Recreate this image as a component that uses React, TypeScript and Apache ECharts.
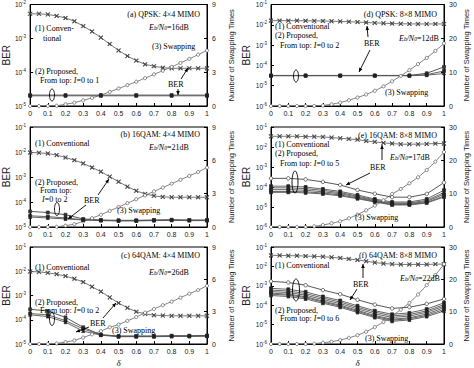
import React, { useEffect, useRef } from 'react';
import * as echarts from 'echarts';

// ---------- data ----------
const X21 = [0, 0.05, 0.1, 0.15, 0.2, 0.25, 0.3, 0.35, 0.4, 0.45, 0.5, 0.55, 0.6, 0.65, 0.7, 0.75, 0.8, 0.85, 0.9, 0.95, 1];
const X11 = [0, 0.1, 0.2, 0.3, 0.4, 0.5, 0.6, 0.7, 0.8, 0.9, 1];
const X6 = [0, 0.2, 0.4, 0.6, 0.8, 1];
const X7 = [0, 0.2, 0.4, 0.6, 0.8, 0.9, 1];
const X_TICKS = ['0', '0.1', '0.2', '0.3', '0.4', '0.5', '0.6', '0.7', '0.8', '0.9', '1'];

// (a) QPSK 4x4
const convA = [5.3e-3, 5.3e-3, 5.1e-3, 4.6e-3, 4.0e-3, 3.2e-3, 2.3e-3, 1.6e-3, 1.05e-3, 6.8e-4, 4.4e-4, 3.0e-4, 2.2e-4, 1.7e-4, 1.5e-4, 1.35e-4, 1.3e-4, 1.3e-4, 1.3e-4, 1.3e-4, 1.3e-4];
const swapA = [0, 0, 0, 0.02, 0.15, 0.3, 0.5, 0.72, 0.97, 1.25, 1.55, 1.85, 2.15, 2.47, 2.8, 3.13, 3.47, 3.82, 4.18, 4.55, 4.92];
const propA0 = [2.1e-5, 2.1e-5, 2.1e-5, 2.1e-5, 2.1e-5, 2.1e-5];
const propA1 = [2.0e-5, 2.0e-5, 2.0e-5, 2.0e-5, 2.0e-5, 2.0e-5];

// (b) 16QAM 4x4
const convB = [9.5e-3, 9.3e-3, 8.7e-3, 7.5e-3, 6.0e-3, 4.7e-3, 3.5e-3, 2.4e-3, 1.63e-3, 1.03e-3, 6.5e-4, 4.1e-4, 2.8e-4, 2.1e-4, 1.76e-4, 1.6e-4, 1.55e-4, 1.55e-4, 1.55e-4, 1.55e-4, 1.55e-4];
const swapB = [0, 0, 0, 0.02, 0.12, 0.25, 0.5, 0.8, 1.1, 1.45, 1.8, 2.15, 2.5, 2.85, 3.2, 3.55, 3.9, 4.25, 4.6, 4.95, 5.35];
const propB0 = [4.2e-5, 3.8e-5, 3.1e-5, 2.1e-5, 1.9e-5, 1.85e-5, 1.85e-5, 1.9e-5, 1.95e-5, 1.9e-5, 1.9e-5];
const propB1 = [2.8e-5, 2.6e-5, 2.3e-5, 1.95e-5, 1.85e-5, 1.8e-5, 1.8e-5, 1.85e-5, 1.9e-5, 1.85e-5, 1.85e-5];
const propB2 = [2.5e-5, 2.3e-5, 2.1e-5, 1.9e-5, 1.8e-5, 1.75e-5, 1.75e-5, 1.8e-5, 1.85e-5, 1.8e-5, 1.8e-5];

// (c) 64QAM 4x4
const convC = [9.7e-3, 9.4e-3, 8.6e-3, 7.6e-3, 6.3e-3, 4.9e-3, 3.6e-3, 2.3e-3, 1.45e-3, 8.3e-4, 4.9e-4, 3.1e-4, 2.15e-4, 1.74e-4, 1.54e-4, 1.49e-4, 1.45e-4, 1.45e-4, 1.45e-4, 1.45e-4, 1.45e-4];
const swapC = [0, 0, 0, 0.05, 0.18, 0.33, 0.6, 0.9, 1.2, 1.55, 1.8, 2.15, 2.5, 2.9, 3.25, 3.6, 3.93, 4.3, 4.67, 5.0, 5.4];
const propC0 = [2.7e-4, 2.3e-4, 1.25e-4, 4.9e-5, 2.4e-5, 2.15e-5, 2.15e-5, 2.15e-5, 2.2e-5, 2.2e-5, 2.25e-5];
const propC1 = [1.8e-4, 1.6e-4, 9.2e-5, 4.2e-5, 2.4e-5, 2.05e-5, 2.05e-5, 2.05e-5, 2.1e-5, 2.1e-5, 2.15e-5];
const propC2 = [1.6e-4, 1.35e-4, 7.9e-5, 3.4e-5, 2.3e-5, 2.0e-5, 2.0e-5, 2.0e-5, 2.05e-5, 2.05e-5, 2.1e-5];

// (d) QPSK 8x8
const convD = [1.6e-2, 1.6e-2, 1.6e-2, 1.6e-2, 1.58e-2, 1.56e-2, 1.54e-2, 1.5e-2, 1.47e-2, 1.42e-2, 1.36e-2, 1.3e-2, 1.24e-2, 1.19e-2, 1.15e-2, 1.12e-2, 1.11e-2, 1.1e-2, 1.1e-2, 1.1e-2, 1.1e-2];
const swapD = [0, 0, 0, 0, 0, 0, 0.15, 0.5, 1.0, 1.7, 2.5, 3.4, 4.5, 5.8, 7.3, 8.9, 10.6, 12.4, 14.2, 16.3, 18.5];
const propD0 = [3.2e-5, 3.2e-5, 3.2e-5, 3.2e-5, 3.2e-5, 4.1e-5, 8.4e-5];
const propD1 = [3.15e-5, 3.15e-5, 3.15e-5, 3.15e-5, 3.15e-5, 3.5e-5, 5.3e-5];
const propD2 = [3.1e-5, 3.1e-5, 3.1e-5, 3.1e-5, 3.1e-5, 3.3e-5, 4.0e-5];

// (e) 16QAM 8x8
const convE = [3.43e-2, 3.43e-2, 3.43e-2, 3.43e-2, 3.3e-2, 3.3e-2, 3.2e-2, 2.95e-2, 2.73e-2, 2.53e-2, 2.35e-2, 2.0e-2, 1.8e-2, 1.6e-2, 1.49e-2, 1.38e-2, 1.38e-2, 1.38e-2, 1.43e-2, 1.49e-2, 1.49e-2];
const swapE = [0, 0, 0, 0, 0, 0.2, 0.6, 1.1, 1.7, 2.6, 3.7, 5.0, 6.4, 8.0, 9.9, 11.4, 13.1, 14.9, 17.1, 19.6, 22.5];
const propE0 = [2.7e-4, 2.7e-4, 2.4e-4, 1.8e-4, 1.26e-4, 7.1e-5, 4.6e-5, 3.1e-5, 3.1e-5, 4.5e-5, 1.66e-4];
const propE1 = [1.1e-4, 1.1e-4, 1.0e-4, 7.9e-5, 6.0e-5, 4.0e-5, 2.5e-5, 1.78e-5, 1.78e-5, 2.5e-5, 6.9e-5];
const propE2 = [9.1e-5, 9.1e-5, 8.3e-5, 6.8e-5, 5.2e-5, 3.5e-5, 2.24e-5, 1.58e-5, 1.58e-5, 2.14e-5, 5.2e-5];
const propE3 = [7.4e-5, 7.4e-5, 6.9e-5, 5.75e-5, 4.6e-5, 3.16e-5, 2.04e-5, 1.45e-5, 1.45e-5, 1.9e-5, 4.4e-5];
const propE4 = [6.0e-5, 6.0e-5, 5.75e-5, 5.0e-5, 4.0e-5, 2.8e-5, 1.9e-5, 1.35e-5, 1.35e-5, 1.7e-5, 3.55e-5];
const propE5 = [5.4e-5, 5.4e-5, 5.1e-5, 4.5e-5, 3.6e-5, 2.6e-5, 1.78e-5, 1.26e-5, 1.26e-5, 1.58e-5, 3.16e-5];

// (f) 64QAM 8x8
const convF = [3.69e-2, 3.69e-2, 3.55e-2, 3.55e-2, 3.4e-2, 3.29e-2, 3.16e-2, 2.93e-2, 2.71e-2, 2.42e-2, 2.15e-2, 1.85e-2, 1.58e-2, 1.41e-2, 1.31e-2, 1.26e-2, 1.26e-2, 1.26e-2, 1.26e-2, 1.31e-2, 1.31e-2];
const swapF = [0, 0, 0, 0, 0, 0.1, 0.4, 0.7, 1.2, 1.9, 2.7, 3.8, 5.2, 6.8, 8.7, 10.6, 12.7, 15.3, 18.2, 21.3, 24.7];
const propF0 = [1.7e-3, 1.48e-3, 1.07e-3, 6.0e-4, 3.7e-4, 1.9e-4, 1.07e-4, 6.8e-5, 7.9e-5, 1.17e-4, 2.1e-4];
const propF1 = [7.4e-4, 6.6e-4, 4.9e-4, 2.8e-4, 1.74e-4, 9.3e-5, 5.2e-5, 3.4e-5, 4.0e-5, 6.3e-5, 1.32e-4];
const propF2 = [6.0e-4, 5.4e-4, 4.0e-4, 2.34e-4, 1.45e-4, 7.8e-5, 4.4e-5, 2.8e-5, 3.3e-5, 5.1e-5, 1.07e-4];
const propF3 = [5.0e-4, 4.5e-4, 3.3e-4, 1.95e-4, 1.2e-4, 6.5e-5, 3.6e-5, 2.34e-5, 2.75e-5, 4.3e-5, 8.9e-5];
const propF4 = [4.2e-4, 3.7e-4, 2.75e-4, 1.62e-4, 1.0e-4, 5.4e-5, 2.95e-5, 1.9e-5, 2.24e-5, 3.5e-5, 7.4e-5];
const propF5 = [3.7e-4, 3.3e-4, 2.45e-4, 1.45e-4, 8.9e-5, 4.8e-5, 2.6e-5, 1.7e-5, 2.0e-5, 3.0e-5, 6.0e-5];
const propF6 = [3.16e-4, 2.8e-4, 2.1e-4, 1.26e-4, 7.8e-5, 4.2e-5, 2.3e-5, 1.48e-5, 1.74e-5, 2.6e-5, 5.0e-5];

// axis ranges
const berMin = [1e-5, 1e-5, 1e-5, 1e-6, 1e-6, 1e-6];
const berMax = [1e-2, 1e-1, 1e-1, 1e-1, 1e-1, 1e-1];
const swapMax = [9, 9, 9, 30, 30, 30];
const swapStep = [3, 3, 3, 10, 10, 10];

// ---------- layout ----------
const SERIF = 'Liberation Serif';
const SANS = 'Liberation Sans';
const INK = '#000000';
const GRIDS = [
  { left: 29, top: 4, width: 178, height: 102 },
  { left: 29, top: 127, width: 178, height: 100 },
  { left: 29, top: 247, width: 178, height: 100 },
  { left: 271, top: 4, width: 173, height: 102 },
  { left: 271, top: 127, width: 173, height: 100 },
  { left: 271, top: 247, width: 173, height: 100 },
];

const XMARK = 'path://M0,1L1,0L5,4L9,0L10,1L6,5L10,9L9,10L5,6L1,10L0,9L4,5Z';
const PROP_SYMS = ['rect', 'rect', 'triangle', 'rect', 'diamond', 'rect', 'triangle'];

function pairs(xs: number[], ys: number[]) {
  return xs.map((x, i) => [x, ys[i]]);
}

function mkSeries(p: number, xs: number[], ys: number[], right: boolean, symbol: string, size: number, color: string, lineColor: string, fill?: string) {
  return {
    type: 'line',
    xAxisIndex: p,
    yAxisIndex: right ? p + 6 : p,
    data: pairs(xs, ys),
    symbol,
    symbolSize: size,
    showAllSymbol: true,
    lineStyle: { color: lineColor, width: 0.9 },
    itemStyle: { color: fill ?? color, borderColor: color, borderWidth: 0.7 },
    silent: true,
    z: 3,
  };
}

function arrow(x1: number, y1: number, x2: number, y2: number) {
  const a = Math.atan2(y2 - y1, x2 - x1);
  const L = 4, W = 1.8;
  const c = Math.cos(a), s = Math.sin(a);
  return [
    { type: 'line', shape: { x1, y1, x2, y2 }, style: { stroke: INK, lineWidth: 0.9 }, z: 10 },
    {
      type: 'polygon',
      shape: { points: [[x2, y2], [x2 - L * c + W * s, y2 - L * s - W * c], [x2 - L * c - W * s, y2 - L * s + W * c]] },
      style: { fill: INK },
      z: 10,
    },
  ];
}

const RICH = {
  i: { fontFamily: SERIF, fontSize: 8, fontStyle: 'italic', fill: INK },
  sub: { fontFamily: SERIF, fontSize: 5.5, fontStyle: 'italic', verticalAlign: 'bottom', fill: INK },
  n: { fontFamily: SERIF, fontSize: 8, fill: INK },
};

function txt(x: number, y: number, text: string, align = 'left') {
  const hasRich = text.indexOf('{') >= 0;
  const style: any = {
    text,
    fontFamily: SERIF,
    fontSize: 8,
    fill: INK,
    align,
    verticalAlign: 'middle',
  };
  if (hasRich) style.rich = RICH;
  return { type: 'text', x, y, z: 10, silent: true, style };
}

function ell(cx: number, cy: number, rx: number, ry: number) {
  return { type: 'ellipse', shape: { cx, cy, rx, ry }, style: { stroke: INK, fill: 'none', lineWidth: 0.9 }, z: 10 };
}

function ebn0(v: number) {
  return '{i|E}{sub|b}{i|/N}{sub|0}{n|=' + v + 'dB}';
}

export default function App() {
  const ref = useRef<HTMLDivElement>(null);
  useEffect(() => {
    if (!ref.current) return;
    const chart = echarts.init(ref.current, undefined, { renderer: 'svg' });

    const xAxis = GRIDS.map((_, p) => ({
      type: 'value',
      gridIndex: p,
      min: 0,
      max: 1,
      interval: 0.1,
      name: p === 2 || p === 5 ? 'δ' : '',
      nameLocation: 'middle',
      nameGap: 14,
      nameTextStyle: { fontFamily: SERIF, fontSize: 9, fontStyle: 'italic', color: INK },
      axisLine: { onZero: false, lineStyle: { color: INK, width: 1 } },
      axisTick: { inside: true, length: 3, lineStyle: { color: INK } },
      axisLabel: {
        fontFamily: SANS,
        fontSize: 7,
        color: '#222',
        margin: 4,
        formatter: (v: number) => X_TICKS[Math.round(v * 10)] ?? '',
      },
      splitLine: { show: false },
    }));

    const yLeft = GRIDS.map((_, p) => ({
      type: 'log',
      logBase: 10,
      gridIndex: p,
      position: 'left',
      min: berMin[p],
      max: berMax[p],
      name: 'BER',
      nameLocation: 'middle',
      nameGap: 16,
      nameTextStyle: { fontFamily: SANS, fontSize: 10, color: '#222' },
      axisLine: { lineStyle: { color: INK, width: 1 } },
      axisTick: { inside: true, length: 3, lineStyle: { color: INK } },
      axisLabel: {
        fontFamily: SANS,
        fontSize: 6.5,
        color: '#222',
        margin: 4,
        lineHeight: 9,
        formatter: (v: number) => '10{s|' + Math.round(Math.log10(v)) + '}',
        rich: { s: { fontFamily: SANS, fontSize: 4.5, verticalAlign: 'top', lineHeight: 9, color: '#222' } },
      },
      splitLine: { show: false },
    }));

    const yRight = GRIDS.map((_, p) => ({
      type: 'value',
      gridIndex: p,
      position: 'right',
      min: 0,
      max: swapMax[p],
      interval: swapStep[p],
      name: 'Number of Swapping Times',
      nameLocation: 'middle',
      nameRotate: 90,
      nameGap: p < 3 ? 20 : 18,
      nameTextStyle: { fontFamily: SANS, fontSize: 7.5, color: '#222' },
      axisLine: { lineStyle: { color: INK, width: 1 } },
      axisTick: { inside: true, length: 3, lineStyle: { color: INK } },
      axisLabel: { fontFamily: SANS, fontSize: 7, color: '#222', margin: 5 },
      splitLine: { show: false },
    }));

    const convs = [convA, convB, convC, convD, convE, convF];
    const swaps = [swapA, swapB, swapC, swapD, swapE, swapF];
    const props: [number[], number[][]][] = [
      [X6, [propA0, propA1]],
      [X11, [propB0, propB1, propB2]],
      [X11, [propC0, propC1, propC2]],
      [X7, [propD0, propD1, propD2]],
      [X11, [propE0, propE1, propE2, propE3, propE4, propE5]],
      [X11, [propF0, propF1, propF2, propF3, propF4, propF5, propF6]],
    ];

    const series: any[] = [];
    for (let p = 0; p < 6; p++) {
      series.push(mkSeries(p, X21, convs[p], false, XMARK, 4, '#444', '#666'));
      series.push(mkSeries(p, X21, swaps[p], true, 'circle', 3.2, '#555', '#777', '#ffffff'));
      const [xs, list] = props[p];
      const big = p === 4 || p === 5;
      list.forEach((ys, k) => {
        const openTop = big && k === 0;
        series.push(
          mkSeries(p, xs, ys, false, openTop ? 'circle' : PROP_SYMS[k], openTop ? 3.5 : 3,
            k === 0 ? '#333' : '#222', k === 0 ? '#444' : '#555', openTop ? '#ffffff' : undefined)
        );
      });
    }

    const graphic: any[] = [
      // (a)
      txt(200, 14, '(a) QPSK: 4×4 MIMO', 'right'),
      txt(149, 27, ebn0(16)),
      txt(35, 28, '(1) Conven-'),
      txt(43, 38, 'tional'),
      txt(152, 46, '(3) Swapping'),
      txt(35, 71, '(2) Proposed,'),
      txt(40, 80, '{n|From top: }{i|I}{n|=0 to 1}'),
      txt(168, 84, 'BER'),
      ...arrow(181, 79, 188, 68),
      ...arrow(178, 89, 178, 95),
      ell(52, 95, 2.5, 6),
      // (b)
      txt(200, 134, '(b) 16QAM: 4×4 MIMO', 'right'),
      txt(149, 147, ebn0(21)),
      txt(35, 143, '(1) Conventional'),
      txt(35, 182, '(2) Proposed,'),
      txt(40, 190, 'From top:'),
      txt(42, 199, '{i|I}{n|=0 to 2}'),
      txt(84, 200, 'BER'),
      ...arrow(98, 195, 109, 179),
      ...arrow(86, 205, 68, 219),
      ell(57, 209, 2.5, 6.5),
      txt(117, 210, '(3) Swapping'),
      // (c)
      txt(200, 255, '(c) 64QAM: 4×4 MIMO', 'right'),
      txt(149, 272, ebn0(26)),
      txt(35, 267, '(1) Conventional'),
      txt(35, 302, '(2) Proposed,'),
      txt(40, 310, '{n|From top: }{i|I}{n|=0 to 2}'),
      ell(52, 319, 2.5, 6.5),
      txt(90, 323, 'BER'),
      ...arrow(103, 318, 116, 303),
      ...arrow(89, 327, 76, 332),
      txt(112, 330, '(3) Swapping'),
      // (d)
      txt(437, 14, '(d) QPSK: 8×8 MIMO', 'right'),
      txt(275, 26, '(1) Conventional'),
      txt(399, 38, ebn0(12)),
      txt(364, 43, 'BER'),
      ...arrow(368, 37, 367, 26),
      ...arrow(370, 50, 359, 72),
      txt(275, 35, '(2) Proposed,'),
      txt(280, 45, '{n|From top: }{i|I}{n|=0 to 2}'),
      ell(296, 76, 2.5, 6),
      txt(385, 92, '(3) Swapping'),
      // (e)
      txt(437, 135, '(e) 16QAM: 8×8 MIMO', 'right'),
      txt(275, 144, '(1) Conventional'),
      txt(275, 153, '(2) Proposed,'),
      txt(280, 163, '{n|From top: }{i|I}{n|=0 to 5}'),
      txt(390, 157, ebn0(17)),
      txt(370, 167, 'BER'),
      ...arrow(382, 160, 382, 145),
      ...arrow(370, 173, 346, 185),
      ell(295, 182, 3, 11),
      txt(355, 217, '(3) Swapping'),
      // (f)
      txt(437, 255, '(f) 64QAM: 8×8 MIMO', 'right'),
      txt(275, 265, '(1) Conventional'),
      txt(400, 278, ebn0(22)),
      txt(353, 284, 'BER'),
      ...arrow(363, 278, 363, 264),
      ...arrow(357, 289, 350, 300),
      ell(296, 290, 3.5, 11),
      txt(275, 310, '(2) Proposed,'),
      txt(280, 318, '{n|From top: }{i|I}{n|=0 to 6}'),
      txt(365, 338, '(3) Swapping'),
    ];

    chart.setOption({
      animation: false,
      backgroundColor: '#fff',
      grid: GRIDS.map((g) => ({ ...g, show: true, borderColor: INK, borderWidth: 1, backgroundColor: 'transparent' })),
      xAxis,
      yAxis: [...yLeft, ...yRight],
      series,
      graphic,
    });
    return () => chart.dispose();
  }, []);

  return <div ref={ref} style={{ position: 'fixed', left: 0, top: 0, width: 474, height: 368, background: '#fff' }} />;
}
